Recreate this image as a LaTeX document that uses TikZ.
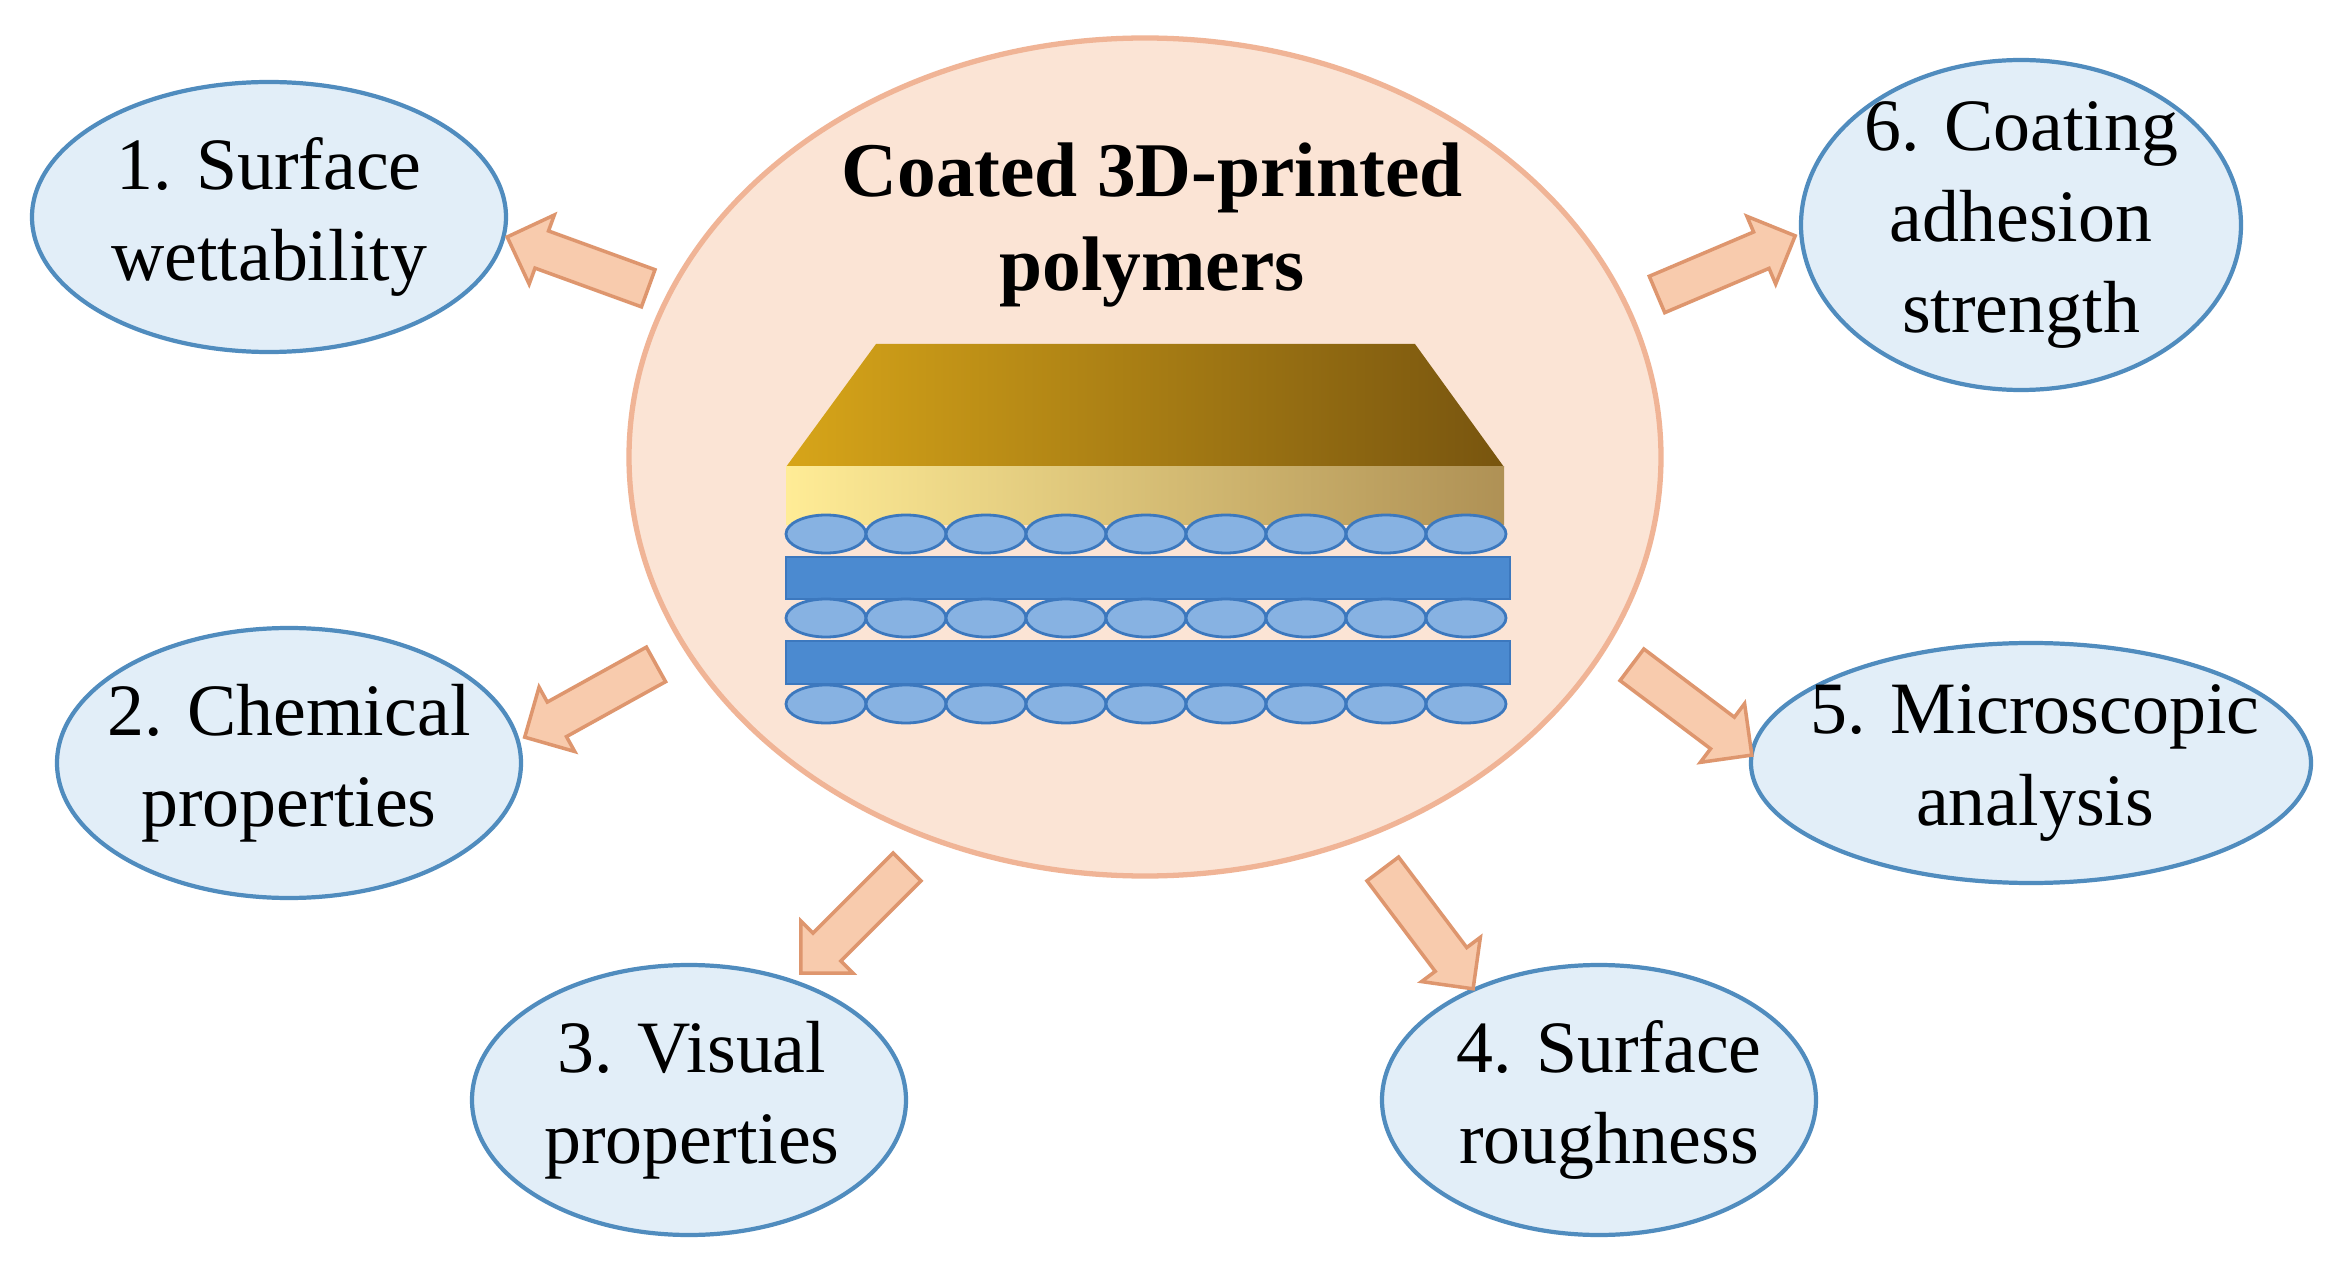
\documentclass[tikz,border=0pt]{standalone}
\usepackage{fontspec}
\setmainfont{Liberation Serif}
\usetikzlibrary{shapes.arrows,fadings}
\definecolor{bigfill}{RGB}{251,228,213}
\definecolor{bigline}{RGB}{240,180,150}
\definecolor{smfill}{RGB}{226,238,248}
\definecolor{smline}{RGB}{80,140,190}
\definecolor{arfill}{RGB}{248,203,173}
\definecolor{arline}{RGB}{222,150,110}
\definecolor{blfill}{RGB}{135,178,226}
\definecolor{blline}{RGB}{60,120,190}
\definecolor{barfill}{RGB}{75,138,208}
\begin{document}
\begin{tikzpicture}[x=0.01cm,y=-0.01cm,
  topic/.style={draw=smline,line width=1.2pt,fill=smfill},
  lbl/.style={align=center,font=\fontsize{21}{26}\selectfont},
  barrow/.style={single arrow,draw=arline,fill=arfill,line width=1pt,minimum width=0.72cm,single arrow head extend=0.17cm,inner sep=0pt,text height=0.36cm,minimum height=1.5cm},
  fil/.style={draw=blline,fill=blfill,line width=0.8pt},
  barst/.style={draw=blline,fill=barfill,line width=0.8pt}]
\useasboundingbox (0,0) rectangle (2347,1279);
\fill[white] (0,0) rectangle (2347,1279);
% central
\draw[draw=bigline,fill=bigfill,line width=1.5pt] (1145,457) ellipse [x radius=516,y radius=419];
\node[lbl,font=\bfseries\fontsize{22}{27}\selectfont] (title) at (1152,225) {Coated 3D-printed\\polymers};
% block
\shade[left color={rgb,255:red,215;green,165;blue,25},right color={rgb,255:red,120;green,85;blue,15}]
  (876,344) -- (1415,344) -- (1504,467) -- (786,467) -- cycle;
\shade[left color={rgb,255:red,255;green,236;blue,150},right color={rgb,255:red,175;green,145;blue,85}] (786,467) rectangle (1504,524);
\draw[barst] (786,557) rectangle (1510,599);
\draw[barst] (786,641) rectangle (1510,684);
\foreach \y in {534,618,704}{
  \foreach \i in {0,...,8}{
    \draw[fil] ({826+80*\i},\y) ellipse [x radius=40,y radius=19];
  }
}
% topics
\draw[topic] (269,217) ellipse [x radius=237,y radius=135];
\node[lbl] (t1) at (269,217) {1. Surface\\wettability};
\draw[topic] (289,763) ellipse [x radius=232,y radius=135];
\node[lbl] (t2) at (289,763) {2. Chemical\\properties};
\draw[topic] (689,1100) ellipse [x radius=217,y radius=135];
\node[lbl] (t3) at (692,1100) {3. Visual\\properties};
\draw[topic] (1599,1100) ellipse [x radius=217,y radius=135];
\node[lbl] (t4) at (1609,1100) {4. Surface\\roughness};
\draw[topic] (2031,763) ellipse [x radius=280,y radius=120];
\node[lbl] (t5) at (2035,763) {5. Microscopic\\analysis};
\draw[topic] (2021,225) ellipse [x radius=220,y radius=165];
\node[lbl] (t6) at (2021,225) {6. Coating\\adhesion\\strength};
% arrows
\node[barrow,rotate=160] (a1) at (587,266) {};
\node[barrow,rotate=209] (a2) at (599,696) {};
\node[barrow,rotate=225] (a3) at (861,913) {};
\node[barrow,rotate=-53] (a4) at (1422,921) {};
\node[barrow,rotate=-37] (a5) at (1684,704) {};
\node[barrow,rotate=23] (a6) at (1717,269) {};
\end{tikzpicture}
\end{document}
